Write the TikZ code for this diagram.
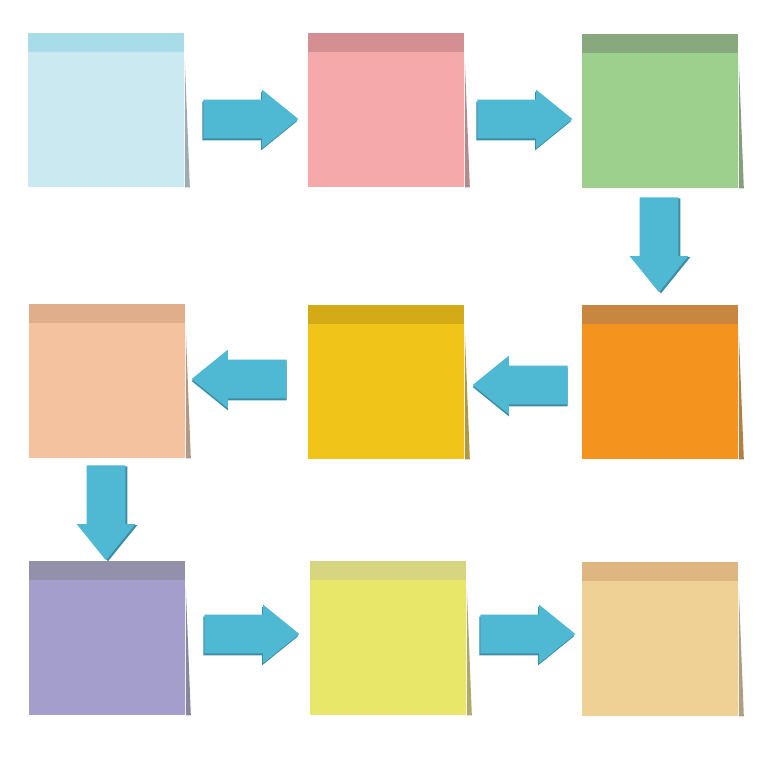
\documentclass[tikz,border=0pt]{standalone}
\usetikzlibrary{shapes.arrows,calc}

\definecolor{arrowblue}{HTML}{4FB8D3}
\definecolor{arrowdark}{HTML}{3C8DA3}
\definecolor{skyb}{HTML}{CBE9F0}   \definecolor{skyh}{HTML}{A8DCE8}
\definecolor{rosb}{HTML}{F6A9AB}   \definecolor{rosh}{HTML}{D48F92}
\definecolor{grnb}{HTML}{9ED08D}   \definecolor{grnh}{HTML}{88A87D}
\definecolor{pchb}{HTML}{F4C29F}   \definecolor{pchh}{HTML}{E0AE8B}
\definecolor{ylwb}{HTML}{F0C419}   \definecolor{ylwh}{HTML}{D4AA17}
\definecolor{orgb}{HTML}{F5931F}   \definecolor{orgh}{HTML}{C88741}
\definecolor{lilb}{HTML}{A49ECC}   \definecolor{lilh}{HTML}{9290AA}
\definecolor{lmnb}{HTML}{E8E76A}   \definecolor{lmnh}{HTML}{D7D580}
\definecolor{sndb}{HTML}{EFD095}   \definecolor{sndh}{HTML}{DDB680}

\tikzset{
  note/.style 2 args={rectangle, minimum width=3.14cm, minimum height=3.08cm,
    inner sep=0, fill=#1,
    path picture={\fill[#2] (path picture bounding box.north west) rectangle
      ([yshift=-0.38cm]path picture bounding box.north east);}},
  flow/.style={single arrow, fill=arrowblue, minimum height=1.9cm,
    inner xsep=0, inner ysep=0.38cm, single arrow head extend=0.2cm,
    single arrow tip angle=78, rotate=#1, anchor=tail}
}

\begin{document}
\begin{tikzpicture}[x=0.02cm, y=-0.02cm]
  \useasboundingbox[fill=white] (0,0) rectangle (768,768);

  % sticky notes
  \node[note={skyb}{skyh}] (n1) at (106,110) {};
  \node[note={rosb}{rosh}] (n2) at (386,110) {};
  \node[note={grnb}{grnh}] (n3) at (660,111) {};
  \node[note={pchb}{pchh}] (n4) at (107,381) {};
  \node[note={ylwb}{ylwh}] (n5) at (386,382) {};
  \node[note={orgb}{orgh}] (n6) at (660,382) {};
  \node[note={lilb}{lilh}] (n7) at (107,638) {};
  \node[note={lmnb}{lmnh}] (n8) at (388,638) {};
  \node[note={sndb}{sndh}] (n9) at (660,639) {};

  % folded right edges
  \foreach \n/\c in {n1/skyb,n2/rosb,n3/grnb,n4/pchb,n5/ylwb,n6/orgb,n7/lilb,n8/lmnb,n9/sndb}
    \fill[\c!65!black!80] ([yshift=-0.55cm]\n.north east) -- ([xshift=0.1cm]\n.south east)
      -- (\n.south east) -- cycle;

  % arrows between notes (tail points)
  \foreach \a/\b/\r/\tx/\ty/\dx/\dy in {n1/n2/0/203/119/-1/2, n2/n3/0/477/119/-1/2,
      n3/n6/-90/659/197/2/1, n6/n5/180/568/385/0/2, n5/n4/180/287/379/0/2,
      n4/n7/-90/106/465/2/1, n7/n8/0/204/634/-1/2, n8/n9/0/480/634/-1/2} {
    \node[flow=\r, fill=arrowdark] at (\tx+\dx,\ty+\dy) {};
    \node[flow=\r] (\a\b) at (\tx,\ty) {};
  }
\end{tikzpicture}
\end{document}
